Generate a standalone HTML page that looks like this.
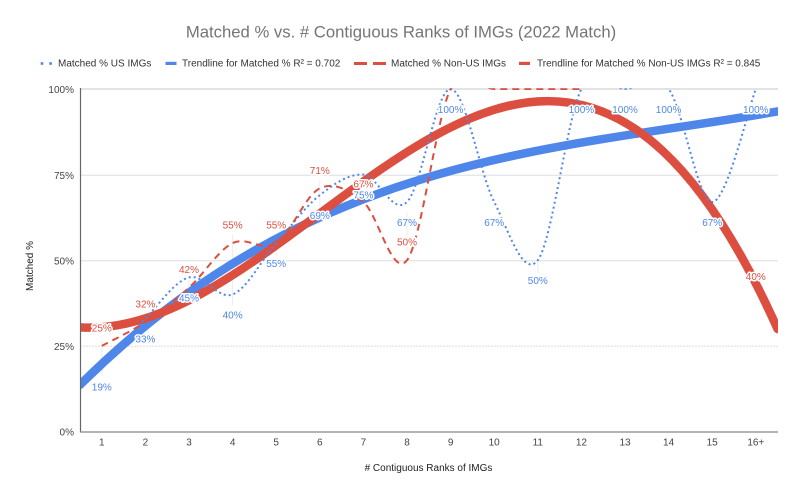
<!DOCTYPE html>
<html>
<head>
<meta charset="utf-8">
<style>
html,body{margin:0;padding:0;background:#fff;}
svg{display:block;font-family:"Liberation Sans",Arial,sans-serif;}
.lbl{font-size:10px;text-anchor:middle;paint-order:stroke;stroke:#fff;stroke-width:3px;stroke-linejoin:round;}
.b{fill:#4f86ea;}
.r{fill:#dc4f40;}
.tick{font-size:10px;fill:#444;}
.leg{font-size:10px;fill:#333;}
</style>
</head>
<body>
<svg width="800" height="495" viewBox="0 0 800 495" xmlns="http://www.w3.org/2000/svg">
<defs>
<clipPath id="pa"><rect x="80" y="88.3" width="698" height="344"/></clipPath>
</defs>
<rect width="800" height="495" fill="#fff"/>

<!-- Title -->
<text x="401" y="37.5" text-anchor="middle" font-size="16.7" fill="#757575">Matched % vs. # Contiguous Ranks of IMGs (2022 Match)</text>

<!-- Legend -->
<rect x="40.7" y="62.2" width="2.6" height="2.6" fill="#4f86ea"/>
<rect x="49.3" y="62.2" width="2.6" height="2.6" fill="#4f86ea"/>
<text class="leg" x="58" y="66.3">Matched % US IMGs</text>
<rect x="165.5" y="61.8" width="11" height="3.2" fill="#4f86ea"/>
<text class="leg" x="182" y="66.3">Trendline for Matched % R² = 0.702</text>
<rect x="354" y="62" width="13" height="3" fill="#dc4f40"/>
<rect x="373" y="62" width="13" height="3" fill="#dc4f40"/>
<text class="leg" x="391" y="66.3">Matched % Non-US IMGs</text>
<rect x="519" y="61.8" width="11" height="3.2" fill="#dc4f40"/>
<text class="leg" x="537" y="66.3">Trendline for Matched % Non-US IMGs R² = 0.845</text>

<!-- Gridlines -->
<line x1="80" y1="89" x2="778" y2="89" stroke="#e3e3e3" stroke-width="2"/>
<line x1="80" y1="175.2" x2="778" y2="175.2" stroke="#dedede" stroke-width="1"/>
<line x1="80" y1="260.8" x2="778" y2="260.8" stroke="#dedede" stroke-width="1"/>
<line x1="80" y1="346.3" x2="778" y2="346.3" stroke="#dedede" stroke-width="1" stroke-dasharray="2,1"/>

<!-- faint category leader lines -->
<g stroke="#ececec" stroke-width="1">
<line x1="101.8" y1="340" x2="101.8" y2="376"/>
<line x1="145.4" y1="312" x2="145.4" y2="330"/>
<line x1="189" y1="280" x2="189" y2="290"/>
<line x1="232.6" y1="235" x2="232.6" y2="305"/>
<line x1="276.2" y1="235" x2="276.2" y2="256"/>
<line x1="319.8" y1="180" x2="319.8" y2="206"/>
<line x1="407" y1="212" x2="407" y2="252"/>
<line x1="537.8" y1="262" x2="537.8" y2="273"/>
</g>

<!-- Y tick labels -->
<text class="tick" x="74" y="93" text-anchor="end">100%</text>
<text class="tick" x="74" y="178.8" text-anchor="end">75%</text>
<text class="tick" x="74" y="264.4" text-anchor="end">50%</text>
<text class="tick" x="74" y="349.9" text-anchor="end">25%</text>
<text class="tick" x="74" y="435.3" text-anchor="end">0%</text>

<!-- X tick labels -->
<g class="tick" text-anchor="middle">
<text x="101.8" y="445.5">1</text>
<text x="145.4" y="445.5">2</text>
<text x="189" y="445.5">3</text>
<text x="232.6" y="445.5">4</text>
<text x="276.2" y="445.5">5</text>
<text x="319.8" y="445.5">6</text>
<text x="363.4" y="445.5">7</text>
<text x="407" y="445.5">8</text>
<text x="450.6" y="445.5">9</text>
<text x="494.2" y="445.5">10</text>
<text x="537.8" y="445.5">11</text>
<text x="581.4" y="445.5">12</text>
<text x="625" y="445.5">13</text>
<text x="668.6" y="445.5">14</text>
<text x="712.2" y="445.5">15</text>
<text x="755.8" y="445.5">16+</text>
</g>

<!-- Axis titles -->
<text x="428.5" y="470.8" text-anchor="middle" font-size="10" fill="#222"># Contiguous Ranks of IMGs</text>
<text transform="translate(33,266) rotate(-90)" text-anchor="middle" font-size="10" fill="#222">Matched %</text>

<g clip-path="url(#pa)">
<!-- Trendlines -->
<path d="M80,384.9 C312.5,154.6 545.1,152.2 777.6,111.4" fill="none" stroke="#4f86ea" stroke-width="8.5" stroke-linecap="round"/>
<path d="M80,327.4 C312.5,341.7 545.1,-190 777.6,329.0" fill="none" stroke="#dc4f40" stroke-width="8.5" stroke-linecap="round"/>

<!-- US dotted -->
<path d="M101.8,366.4 C109.1,358.4 130.9,333.3 145.4,318.5 C159.9,303.7 174.5,281.4 189,277.4 C203.5,273.4 218.1,300.2 232.6,294.5 C247.1,288.8 261.7,259.7 276.2,243.1 C290.7,226.6 305.3,206.6 319.8,195.2 C334.3,183.8 348.9,173.5 363.4,174.6 C377.9,175.7 392.5,216.3 407,202 C421.5,187.7 436.1,89 450.6,89 C465.1,89 479.7,173.5 494.2,202 C508.7,230.5 523.3,279.1 537.8,260.25 C552.3,241.4 566.9,117.5 581.4,89 C595.9,60.5 610.5,89 625,89 C639.5,89 654.1,70.2 668.6,89 C683.1,107.8 697.7,202 712.2,202 C726.7,202 748.5,107.8 755.8,89" fill="none" stroke="#4f86ea" stroke-width="2" stroke-dasharray="2,3"/>

<!-- Non-US dashed -->
<path d="M101.8,345.9 C109.1,341.9 130.9,331.6 145.4,321.9 C159.9,312.2 174.5,300.8 189,287.65 C203.5,274.5 218.1,250.5 232.6,243.1 C247.1,235.7 261.7,252.2 276.2,243.1 C290.7,234 305.3,195.2 319.8,188.3 C334.3,181.5 348.9,190 363.4,202 C377.9,214 392.5,279.1 407,260.25 C421.5,241.4 436.1,117.5 450.6,89 C465.1,60.5 479.7,89 494.2,89 C508.7,89 523.3,89 537.8,89 C552.3,89 574.1,89 581.4,89" fill="none" stroke="#dc4f40" stroke-width="2" stroke-dasharray="7,5"/>
</g>

<!-- Axes -->
<line x1="80.5" y1="88" x2="80.5" y2="432" stroke="#666" stroke-width="1.2"/>
<line x1="80" y1="432" x2="778" y2="432" stroke="#888" stroke-width="1.3"/>

<!-- US labels -->
<g class="lbl b">
<text x="101.8" y="390.4">19%</text>
<text x="145.4" y="342.5">33%</text>
<text x="189" y="301.4">45%</text>
<text x="232.6" y="318.5">40%</text>
<text x="276.2" y="267.1">55%</text>
<text x="319.8" y="219.2">69%</text>
<text x="363.4" y="198.6">75%</text>
<text x="407" y="226">67%</text>
<text x="450.6" y="113">100%</text>
<text x="494.2" y="226">67%</text>
<text x="537.8" y="284.2">50%</text>
<text x="581.4" y="113">100%</text>
<text x="625" y="113">100%</text>
<text x="668.6" y="113">100%</text>
<text x="712.2" y="226">67%</text>
<text x="755.8" y="113">100%</text>
</g>

<!-- Non-US labels -->
<g class="lbl r">
<text x="101.8" y="331.4">25%</text>
<text x="145.4" y="307.4">32%</text>
<text x="189" y="273.2">42%</text>
<text x="232.6" y="228.6">55%</text>
<text x="276.2" y="228.6">55%</text>
<text x="319.8" y="173.8">71%</text>
<text x="363.4" y="187.5">67%</text>
<text x="407" y="245.7">50%</text>
<text x="755.8" y="280">40%</text>
</g>
</svg>
</body>
</html>
